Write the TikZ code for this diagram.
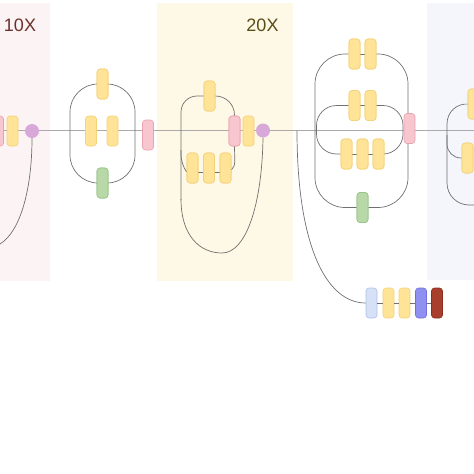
\documentclass[tikz,border=0pt]{standalone}
\usepackage{fontspec}
\setmainfont{Liberation Sans}
\definecolor{panpink}{HTML}{FCF4F4}
\definecolor{panyel}{HTML}{FEF8E6}
\definecolor{panblue}{HTML}{F4F6FC}
\definecolor{yfill}{HTML}{FFE497}
\definecolor{ydraw}{HTML}{F3D27A}
\definecolor{pfill}{HTML}{F8C6CE}
\definecolor{pdraw}{HTML}{E8A4AE}
\definecolor{gfill}{HTML}{B8D8A8}
\definecolor{gdraw}{HTML}{98C488}
\definecolor{cfill}{HTML}{D8A8D8}
\definecolor{lbfill}{HTML}{D6E0F6}
\definecolor{lbdraw}{HTML}{AFC2EA}
\definecolor{bfill}{HTML}{9090F0}
\definecolor{bdraw}{HTML}{7070DC}
\definecolor{rfill}{HTML}{A83E2C}
\definecolor{rdraw}{HTML}{8C2C1E}
\definecolor{mainln}{HTML}{AAAAAA}
\definecolor{loopln}{HTML}{707070}
\definecolor{txtred}{HTML}{6E302A}
\definecolor{txtolive}{HTML}{5C4C16}
\begin{document}
\begin{tikzpicture}[x=1pt,y=-1pt,
  blk/.style={rectangle,rounded corners=3pt,minimum width=11pt,minimum height=30pt,inner sep=0pt,line width=0.6pt},
  yb/.style={blk,fill=yfill,draw=ydraw},
  pb/.style={blk,fill=pfill,draw=pdraw},
  gb/.style={blk,fill=gfill,draw=gdraw},
  lbb/.style={blk,fill=lbfill,draw=lbdraw},
  bb/.style={blk,fill=bfill,draw=bdraw},
  rb/.style={blk,fill=rfill,draw=rdraw},
  dot/.style={circle,fill=cfill,minimum size=14pt,inner sep=0pt},
  mainline/.style={draw=mainln,line width=0.7pt},
  loopline/.style={draw=loopln,line width=0.7pt},
  lbl/.style={font=\fontsize{18}{20}\selectfont}
]
\useasboundingbox (0,0) rectangle (474,474);
% panels
\fill[panpink] (0,3) rectangle (50,281);
\fill[panyel] (157,3) rectangle (293,281);
\fill[panblue] (427,3) rectangle (474,280);
\node[lbl,text=txtred] (t10) at (20,25) {10X};
\node[lbl,text=txtolive] (t20) at (262.5,25) {20X};
% main line
\coordinate (ml0) at (0,130.5);
\coordinate (ml1) at (474,130.5);
\draw[mainline] (ml0) -- (ml1);
% coordinates
\coordinate (j2) at (181,150);
\coordinate (b0) at (297,130.5);
\coordinate (j4) at (447,135);
\coordinate (e1) at (0,244);
\coordinate (e4) at (482,205);

% ---- left part
\node[dot] (c1) at (32,131) {};
\draw[loopline] (c1.south) .. controls (32,190) and (20,232) .. (e1);
\node[pb] (p0) at (-2,131) {};
\node[yb] (y0) at (12.5,131) {};

% ---- module 1
\node[yb] (m1t) at (102.5,84) {};
\node[gb] (m1g) at (102.5,183) {};
\draw[loopline,rounded corners=28pt] (m1t.west) -- (70,84) -- (70,183) -- (m1g.west);
\draw[loopline,rounded corners=28pt] (m1t.east) -- (135,84) -- (135,183) -- (m1g.east);
\node[yb] (m1t) at (102.5,84) {};
\node[gb] (m1g) at (102.5,183) {};
\node[yb] (m1a) at (91,131) {};
\node[yb] (m1b) at (112.5,131) {};
\node[pb] (p1) at (148,135) {};

% ---- module 2
\node[yb] (m2t) at (209.5,96) {};
\node[pb] (p2) at (234.5,131) {};
\node[yb] (y2) at (248.5,131) {};
\node[dot] (c2) at (263,130.5) {};
\node[yb] (m2a) at (192.5,168) {};
\node[yb] (m2b) at (209,168) {};
\node[yb] (m2c) at (225.5,168) {};
\draw[loopline,rounded corners=16pt] (m2t.west) -- (181,96) -- (181,200);
\draw[loopline] (181,199) .. controls (181,236) and (200,253) .. (222,253) .. controls (246,253) and (262,205) .. (c2.south);
\draw[loopline,rounded corners=19pt] (m2t.east) -- (234.5,96) -- (p2.north);
\draw[loopline,rounded corners=9pt] (j2) -- (181,164) -- ([yshift=-4pt]m2a.west);
\draw[loopline] ([yshift=-4pt]m2a.east) -- ([yshift=-4pt]m2b.west);
\draw[loopline] ([yshift=-4pt]m2b.east) -- ([yshift=-4pt]m2c.west);
\draw[loopline,rounded corners=10pt] ([yshift=-4pt]m2c.east) -- (235,172) -- (p2.south);
\node[yb] at (m2t) {};
\node[yb] at (m2a) {};
\node[yb] at (m2b) {};
\node[yb] at (m2c) {};
\node[pb] at (p2) {};

% ---- module 3
\node[yb] (m3a) at (354.5,54) {};
\node[yb] (m3b) at (370.5,54) {};
\node[yb] (m3c) at (354.5,105.5) {};
\node[yb] (m3d) at (370.5,105.5) {};
\node[yb] (m3e) at (346.5,154) {};
\node[yb] (m3f) at (362.5,154) {};
\node[yb] (m3g) at (378.5,154) {};
\node[gb] (m3h) at (362.5,207.5) {};
\draw[loopline,rounded corners=30pt] (m3a.west) -- (315,54) -- (315,207.5) -- (m3h.west);
\draw[loopline,rounded corners=30pt] (m3b.east) -- (408,54) -- (408,207.5) -- (m3h.east);
\draw[loopline,rounded corners=20pt] (m3c.west) -- (316.5,105.5) -- (316.5,154) -- (m3e.west);
\draw[loopline,rounded corners=20pt] (m3d.east) -- (403,105.5) -- (403,154) -- (m3g.east);
\draw[loopline] (m3a.east) -- (m3b.west);
\draw[loopline] (m3c.east) -- (m3d.west);
\draw[loopline] (m3e.east) -- (m3f.west);
\draw[loopline] (m3f.east) -- (m3g.west);
\node[yb] at (m3a) {};
\node[yb] at (m3b) {};
\node[yb] at (m3c) {};
\node[yb] at (m3d) {};
\node[yb] at (m3e) {};
\node[yb] at (m3f) {};
\node[yb] at (m3g) {};
\node[gb] at (m3h) {};
\node[pb] (p3) at (409.5,128.5) {};

% ---- branch to bottom row
\node[lbb] (q1) at (371.5,303) {};
\node[yb] (q2) at (388.5,303) {};
\node[yb] (q3) at (404.5,303) {};
\node[bb] (q4) at (421,303) {};
\node[rb] (q5) at (437,303) {};
\draw[loopline] (b0) .. controls (297,245) and (326,303) .. (q1.west);
\draw[loopline] (q1.east) -- (q2.west);
\draw[loopline] (q2.east) -- (q3.west);
\draw[loopline] (q3.east) -- (q4.west);
\draw[loopline] (q4.east) -- (q5.west);

% ---- blue part
\node[yb] (r1) at (473.5,104) {};
\node[yb] (r2) at (467.5,158) {};
\draw[loopline,rounded corners=22pt] (r1.west) -- (447,102) -- (447,205) -- (e4);
\draw[loopline,rounded corners=14pt] (j4) -- (447,158) -- (r2.west);
\node[yb] at (r1) {};
\node[yb] at (r2) {};
\end{tikzpicture}
\end{document}
